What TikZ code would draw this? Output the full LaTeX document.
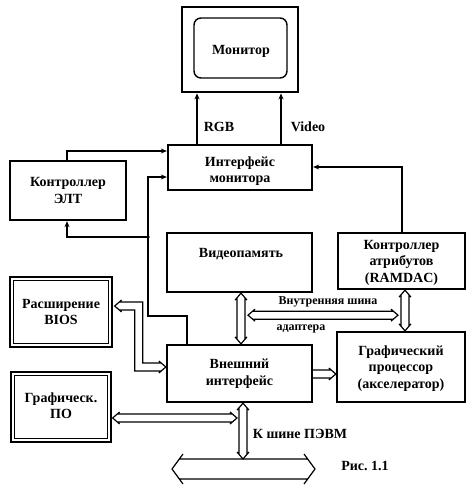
\documentclass[tikz,border=0pt]{standalone}
\usepackage{fontspec}
\setmainfont{Liberation Serif}
\usetikzlibrary{arrows.meta,calc}
\newcommand\hollowV[2]{%
 \draw[hol] let \p1=(#1), \p2=(#2) in
  (\x1-6pt,\y1-7pt) -- (\x1,\y1) -- (\x1+6pt,\y1-7pt)
  (\x1-4pt,\y1-4.7pt) -- (\x1-4pt,\y2+4.7pt)
  (\x1+4pt,\y1-4.7pt) -- (\x1+4pt,\y2+4.7pt)
  (\x1-6pt,\y2+7pt) -- (\x1,\y2) -- (\x1+6pt,\y2+7pt);}
\newcommand\hollowH[2]{%
 \draw[hol] let \p1=(#1), \p2=(#2) in
  (\x1+7pt,\y1+6pt) -- (\x1,\y1) -- (\x1+7pt,\y1-6pt)
  (\x1+4.7pt,\y1+4pt) -- (\x2-4.7pt,\y1+4pt)
  (\x1+4.7pt,\y1-4pt) -- (\x2-4.7pt,\y1-4pt)
  (\x2-7pt,\y1+6pt) -- (\x2,\y1) -- (\x2-7pt,\y1-6pt);}
\newcommand\hollowR[2]{%
 \draw[hol] let \p1=(#1), \p2=(#2) in
  (\x1,\y1+4pt) -- (\x2-4.7pt,\y1+4pt)
  (\x1,\y1-4pt) -- (\x2-4.7pt,\y1-4pt)
  (\x2-7pt,\y1+6pt) -- (\x2,\y1) -- (\x2-7pt,\y1-6pt);}
\begin{document}
\begin{tikzpicture}[x=1pt,y=-1pt,
  box/.style={draw, line width=2.3pt, inner sep=0pt, align=center, font=\bfseries\fontsize{14}{16.5}\selectfont},
  arr/.style={line width=1.2pt, -{Stealth[length=6pt,width=5pt]}},
  hol/.style={line width=1.2pt, line join=miter},
  lbl/.style={font=\bfseries\fontsize{14}{16.5}\selectfont, inner sep=0pt, align=center},
  slbl/.style={font=\bfseries\fontsize{12}{14}\selectfont, inner sep=0pt}]
\useasboundingbox (0,0) rectangle (474,485);

% boxes
\node[box, line width=2.8pt, minimum width=116pt, minimum height=85pt] (mon) at (240,49.5) {};
\node[box, line width=1.4pt, rounded corners=7pt, minimum width=93pt, minimum height=60pt] (monin) at (240.5,48) {};
\node[lbl] (mont) at (241,51) {Монитор};
\node[box, minimum width=144pt, minimum height=45pt] (imon) at (240,167.5) {};
\node[lbl] (imont) at (240,171) {Интерфейс\\монитора};
\node[box, minimum width=116pt, minimum height=59pt] (elt) at (68,190.5) {Контроллер\\ЭЛТ};
\node[box, minimum width=145pt, minimum height=59pt] (vmem) at (239.5,262.5) {};
\node[lbl] (vmemt) at (241,254) {Видеопамять};
\node[box, minimum width=127pt, minimum height=56pt] (ramdac) at (401.5,261) {};
\node[lbl] (ramdact) at (401.5,262.5) {Контроллер\\атрибутов\\(RAMDAC)};
\node[box, minimum width=102pt, minimum height=70pt] (bios) at (61,312) {Расширение\\BIOS};
\draw[line width=1pt] ([shift={(5pt,-5pt)}]bios.north west) rectangle ([shift={(-5pt,5pt)}]bios.south east);
\node[box, minimum width=145pt, minimum height=57pt] (ext) at (239.5,373.5) {Внешний\\интерфейс};
\node[box, minimum width=128pt, minimum height=70pt] (gpu) at (401,367) {};
\node[lbl] (gput) at (401,368.5) {Графический\\процессор\\(акселератор)};
\node[box, minimum width=100pt, minimum height=70pt] (po) at (61,407) {};
\node[lbl] (pot) at (61,405.5) {Графическ.\\ПО};
\draw[line width=1pt] ([shift={(5pt,-5pt)}]po.north west) rectangle ([shift={(-5pt,5pt)}]po.south east);

% labels
\node[lbl] (rgb) at (219,127) {RGB};
\node[lbl] (video) at (308,127) {Video};
\node[slbl] (ibus) at (328,302) {Внутренняя шина};
\node[slbl] (adap) at (301,329) {адаптера};
\node[lbl] (kbus) at (300,434) {К шине ПЭВМ};
\node[lbl] (fig) at (365,466) {Рис.\ 1.1};

% thin connectors
\draw[arr] ([xshift=-43pt]imon.north) -- ([xshift=-43pt]imon.north |- mon.south);
\draw[arr] ([xshift=41pt]imon.north) -- ([xshift=41pt]imon.north |- mon.south);
\draw[arr] ([xshift=-1pt]elt.north) |- ([yshift=16.5pt]imon.west);
\draw[arr] ([xshift=0.5pt]ramdac.north) |- ([yshift=0.5pt]imon.east);
\coordinate (j1) at (148,237);
\coordinate (j2) at (148,316);
\draw[arr] ([xshift=-52.5pt]ext.north) |- (j2) |- ([yshift=-9.5pt]imon.west);
\draw[arr] (j1) -| ([xshift=-1pt]elt.south);
\fill (j1) circle (1.8);

% hollow (bus) connectors
\coordinate (ivx) at ([xshift=1.5pt]vmem.south);
\coordinate (rgx) at ([xshift=3.5pt]ramdac.south);
\coordinate (busv) at ([xshift=3.5pt]ext.south);
\coordinate (busL) at (172,469);
\coordinate (busR) at (315,469);
\coordinate (bustop) at ($(busL)+(0,-10)$);
\hollowV{ivx}{ivx |- ext.north}
\hollowV{rgx}{rgx |- gpu.north}
\hollowH{$(ivx)+(7,22)$}{$(rgx)+(-7,25)$}
\hollowR{[yshift=-0.5pt]ext.east}{[yshift=-0.5pt]gpu.west}
\hollowV{busv}{busv |- bustop}
\hollowH{$(po.east)+(0.5,11)$}{$(busv |- po.east)+(-6,11)$}
\draw[hol] let \p1=([xshift=1.5pt,yshift=6pt]bios.east), \p2=([yshift=6.5pt]ext.west) in
  (\x1+7pt,\y1+6pt) -- (\x1,\y1) -- (\x1+7pt,\y1-6pt)
  (\x1+4.7pt,\y1+4pt) -- (\x1+28pt,\y1+4pt) -- (\x1+28pt,\y2+4pt) -- (\x2-4.7pt,\y2+4pt)
  (\x1+4.7pt,\y1-4pt) -- (\x1+20pt,\y1-4pt) -- (\x1+20pt,\y2-4pt) -- (\x2-4.7pt,\y2-4pt)
  (\x2-7pt,\y2+6pt) -- (\x2,\y2) -- (\x2-7pt,\y2-6pt);
\draw[hol] let \p1=(busL), \p2=(busR) in
  (\x1+11pt,\y1+15pt) -- (\x1,\y1) -- (\x1+11pt,\y1-15pt)
  (\x1+7.3pt,\y1+10pt) -- (\x2-7.3pt,\y1+10pt)
  (\x1+7.3pt,\y1-10pt) -- (\x2-7.3pt,\y1-10pt)
  (\x2-11pt,\y1+15pt) -- (\x2,\y1) -- (\x2-11pt,\y1-15pt);
\end{tikzpicture}
\end{document}
